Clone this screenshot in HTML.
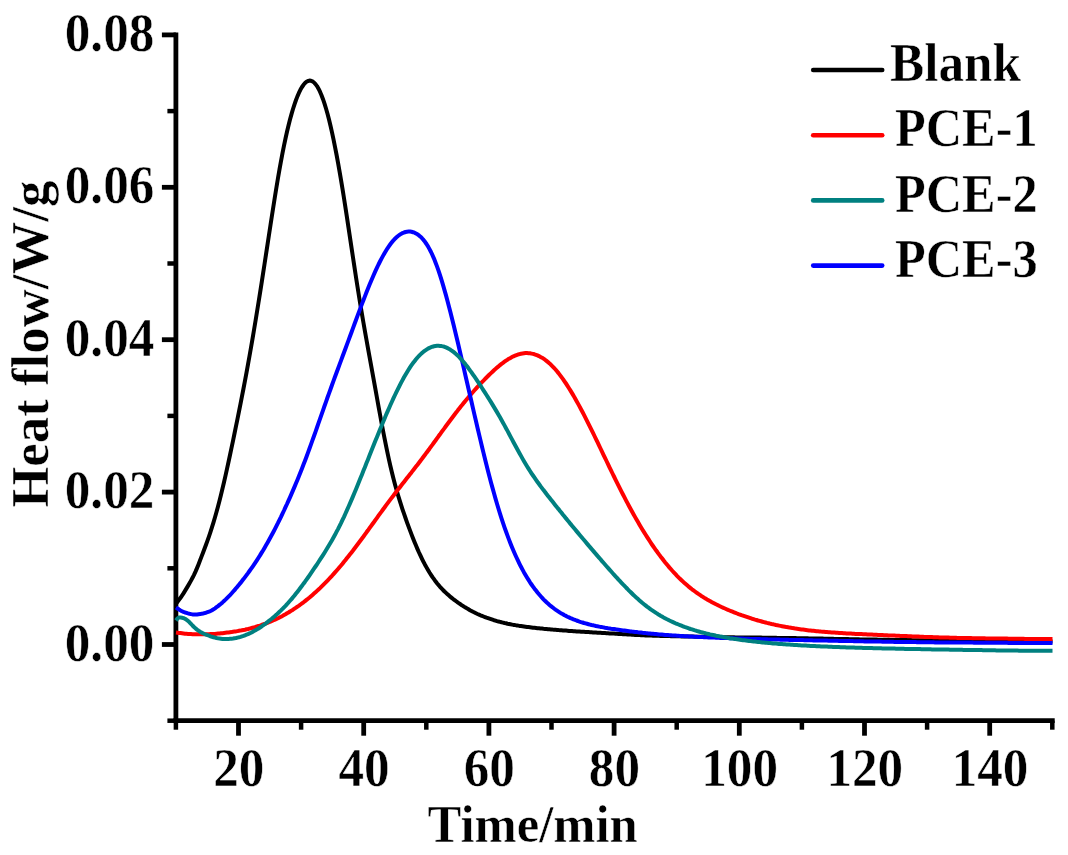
<!DOCTYPE html>
<html lang="en">
<head>
<meta charset="utf-8">
<title>Heat flow vs. time</title>
<style>
html,body{margin:0;padding:0;background:#fff;}
body{width:1068px;height:855px;overflow:hidden;}
svg{display:block;filter:blur(0.45px);}
</style>
</head>
<body>
<svg width="1068" height="855" viewBox="0 0 1068 855" role="img" aria-label="Heat flow versus time for Blank, PCE-1, PCE-2 and PCE-3">
<rect width="1068" height="855" fill="#fff"/>
<g stroke="#000" fill="none" stroke-linecap="butt">
<path d="M175.9 32.5 V723.1" stroke-width="4.8"/>
<path d="M173.5 720.7 H1054.7" stroke-width="4.8"/>
<path d="M167.4 720.7 H175.9" stroke-width="4.5"/>
<path d="M161.9 644.5 H175.9" stroke-width="4.8"/>
<path d="M167.4 568.3 H175.9" stroke-width="4.5"/>
<path d="M161.9 492.1 H175.9" stroke-width="4.8"/>
<path d="M167.4 415.9 H175.9" stroke-width="4.5"/>
<path d="M161.9 339.7 H175.9" stroke-width="4.8"/>
<path d="M167.4 263.5 H175.9" stroke-width="4.5"/>
<path d="M161.9 187.3 H175.9" stroke-width="4.8"/>
<path d="M167.4 111.1 H175.9" stroke-width="4.5"/>
<path d="M161.9 34.9 H175.9" stroke-width="4.8"/>
<path d="M175.9 720.7 V729.7" stroke-width="4.5"/>
<path d="M238.5 720.7 V735.7" stroke-width="4.8"/>
<path d="M301.1 720.7 V729.7" stroke-width="4.5"/>
<path d="M363.7 720.7 V735.7" stroke-width="4.8"/>
<path d="M426.3 720.7 V729.7" stroke-width="4.5"/>
<path d="M488.9 720.7 V735.7" stroke-width="4.8"/>
<path d="M551.5 720.7 V729.7" stroke-width="4.5"/>
<path d="M614.1 720.7 V735.7" stroke-width="4.8"/>
<path d="M676.7 720.7 V729.7" stroke-width="4.5"/>
<path d="M739.3 720.7 V735.7" stroke-width="4.8"/>
<path d="M801.9 720.7 V729.7" stroke-width="4.5"/>
<path d="M864.5 720.7 V735.7" stroke-width="4.8"/>
<path d="M927.1 720.7 V729.7" stroke-width="4.5"/>
<path d="M989.7 720.7 V735.7" stroke-width="4.8"/>
<path d="M1052.3 720.7 V729.7" stroke-width="4.5"/>
</g>
<g fill="none" stroke-linejoin="round" stroke-linecap="butt" stroke-width="4.00">
<path d="M176.0 603.8 L177.5 601.8 L179.0 599.8 L180.5 597.8 L182.0 595.6 L183.5 593.3 L185.0 590.9 L186.5 588.4 L188.0 585.9 L189.5 583.3 L191.0 580.6 L192.5 577.8 L194.0 574.8 L195.5 571.6 L197.0 568.1 L198.5 564.4 L200.0 560.6 L201.5 556.6 L203.0 552.7 L204.5 548.7 L206.0 544.7 L207.5 540.6 L209.0 536.3 L210.5 531.9 L212.0 527.2 L213.5 522.4 L215.0 517.3 L216.5 512.0 L218.0 506.5 L219.5 500.7 L221.0 494.7 L222.5 488.6 L224.0 482.2 L225.5 475.6 L227.0 468.9 L228.5 462.0 L230.0 455.0 L231.5 447.9 L233.0 440.8 L234.5 433.5 L236.0 426.2 L237.5 418.9 L239.0 411.4 L240.5 403.9 L242.0 396.2 L243.5 388.5 L245.0 380.6 L246.5 372.6 L248.0 364.4 L249.5 356.0 L251.0 347.5 L252.5 338.8 L254.0 330.0 L255.5 321.0 L257.0 311.8 L258.5 302.5 L260.0 293.1 L261.5 283.6 L263.0 273.9 L264.5 264.2 L266.0 254.4 L267.5 244.6 L269.0 234.8 L270.5 225.0 L272.0 215.3 L273.5 205.7 L275.0 196.2 L276.5 187.0 L278.0 178.0 L279.5 169.4 L281.0 161.1 L282.5 153.2 L284.0 145.6 L285.5 138.5 L287.0 131.8 L288.5 125.5 L290.0 119.6 L291.5 114.1 L293.0 109.0 L294.5 104.3 L296.0 100.0 L297.5 96.1 L299.0 92.7 L300.5 89.6 L302.0 87.0 L303.5 84.8 L305.0 83.1 L306.5 81.8 L308.0 81.0 L309.5 80.6 L311.0 80.8 L312.5 81.4 L314.0 82.5 L315.5 84.1 L317.0 86.1 L318.5 88.7 L320.0 91.7 L321.5 95.2 L323.0 99.2 L324.5 103.6 L326.0 108.5 L327.5 113.8 L329.0 119.6 L330.5 125.8 L332.0 132.4 L333.5 139.4 L335.0 146.8 L336.5 154.5 L338.0 162.6 L339.5 171.1 L341.0 179.8 L342.5 188.9 L344.0 198.3 L345.5 207.9 L347.0 217.6 L348.5 227.6 L350.0 237.6 L351.5 247.6 L353.0 257.5 L354.5 267.4 L356.0 277.2 L357.5 286.8 L359.0 296.2 L360.5 305.3 L362.0 314.3 L363.5 323.0 L365.0 331.6 L366.5 340.0 L368.0 348.4 L369.5 356.7 L371.0 364.9 L372.5 373.2 L374.0 381.4 L375.5 389.7 L377.0 398.0 L378.5 406.3 L380.0 414.5 L381.5 422.6 L383.0 430.5 L384.5 438.2 L386.0 445.7 L387.5 452.9 L389.0 459.9 L390.5 466.5 L392.0 472.8 L393.5 478.8 L395.0 484.4 L396.5 489.8 L398.0 495.0 L399.5 499.9 L401.0 504.7 L402.5 509.3 L404.0 513.7 L405.5 518.0 L407.0 522.3 L408.5 526.4 L410.0 530.4 L411.5 534.4 L413.0 538.2 L414.5 542.0 L416.0 545.6 L417.5 549.1 L419.0 552.5 L420.5 555.7 L422.0 558.8 L423.5 561.8 L425.0 564.7 L426.5 567.4 L428.0 570.0 L429.5 572.5 L431.0 574.8 L432.5 577.1 L434.0 579.2 L435.5 581.3 L437.0 583.2 L438.5 585.0 L440.0 586.8 L441.5 588.4 L443.0 590.0 L444.5 591.5 L446.0 592.9 L447.5 594.3 L449.0 595.6 L450.5 596.9 L452.0 598.1 L453.5 599.3 L455.0 600.4 L456.5 601.5 L458.0 602.6 L459.5 603.6 L461.0 604.7 L462.5 605.6 L464.0 606.6 L465.5 607.5 L467.0 608.4 L468.5 609.3 L470.0 610.2 L471.5 611.0 L473.0 611.8 L474.5 612.5 L476.0 613.3 L477.5 614.0 L479.0 614.6 L480.5 615.3 L482.0 615.9 L483.5 616.5 L485.0 617.1 L486.5 617.7 L488.0 618.2 L489.5 618.7 L491.0 619.2 L492.5 619.7 L494.0 620.2 L495.5 620.6 L497.0 621.1 L498.5 621.5 L500.0 621.9 L501.5 622.3 L503.0 622.6 L504.5 623.0 L506.0 623.3 L507.5 623.7 L509.0 624.0 L510.5 624.3 L512.0 624.6 L513.5 624.9 L515.0 625.1 L516.5 625.4 L518.0 625.6 L519.5 625.9 L521.0 626.1 L522.5 626.3 L524.0 626.5 L525.5 626.7 L527.0 626.9 L528.5 627.1 L530.0 627.3 L531.5 627.5 L533.0 627.7 L534.5 627.8 L536.0 628.0 L537.5 628.2 L539.0 628.3 L540.5 628.5 L542.0 628.6 L543.5 628.8 L545.0 628.9 L546.5 629.0 L548.0 629.2 L549.5 629.3 L551.0 629.4 L552.5 629.6 L554.0 629.7 L555.5 629.8 L557.0 629.9 L558.5 630.1 L560.0 630.2 L561.5 630.3 L563.0 630.4 L564.5 630.5 L566.0 630.6 L567.5 630.7 L569.0 630.9 L570.5 631.0 L572.0 631.1 L573.5 631.2 L575.0 631.3 L576.5 631.4 L578.0 631.5 L579.5 631.6 L581.0 631.7 L582.5 631.8 L584.0 631.8 L585.5 631.9 L587.0 632.0 L588.5 632.1 L590.0 632.2 L591.5 632.3 L593.0 632.4 L594.5 632.5 L596.0 632.6 L597.5 632.7 L599.0 632.7 L600.5 632.8 L602.0 632.9 L603.5 633.0 L605.0 633.1 L606.5 633.2 L608.0 633.3 L609.5 633.4 L611.0 633.5 L612.5 633.5 L614.0 633.6 L615.5 633.7 L617.0 633.8 L618.5 633.9 L620.0 634.0 L621.5 634.1 L623.0 634.2 L624.5 634.3 L626.0 634.3 L627.5 634.4 L629.0 634.5 L630.5 634.6 L632.0 634.7 L633.5 634.8 L635.0 634.9 L636.5 634.9 L638.0 635.0 L639.5 635.1 L641.0 635.2 L642.5 635.2 L644.0 635.3 L645.5 635.4 L647.0 635.4 L648.5 635.5 L650.0 635.5 L651.5 635.6 L653.0 635.7 L654.5 635.7 L656.0 635.8 L657.5 635.8 L659.0 635.8 L660.5 635.9 L662.0 635.9 L663.5 636.0 L665.0 636.0 L666.5 636.0 L668.0 636.1 L669.5 636.1 L671.0 636.2 L672.5 636.2 L674.0 636.2 L675.5 636.3 L677.0 636.3 L678.5 636.3 L680.0 636.3 L681.5 636.4 L683.0 636.4 L684.5 636.4 L686.0 636.5 L687.5 636.5 L689.0 636.5 L690.5 636.6 L692.0 636.6 L693.5 636.6 L695.0 636.7 L696.5 636.7 L698.0 636.7 L699.5 636.8 L701.0 636.8 L702.5 636.8 L704.0 636.9 L705.5 636.9 L707.0 636.9 L708.5 636.9 L710.0 637.0 L711.5 637.0 L713.0 637.0 L714.5 637.1 L716.0 637.1 L717.5 637.1 L719.0 637.1 L720.5 637.2 L722.0 637.2 L723.5 637.2 L725.0 637.2 L726.5 637.2 L728.0 637.3 L729.5 637.3 L731.0 637.3 L732.5 637.3 L734.0 637.3 L735.5 637.4 L737.0 637.4 L738.5 637.4 L740.0 637.4 L741.5 637.4 L743.0 637.4 L744.5 637.4 L746.0 637.5 L747.5 637.5 L749.0 637.5 L750.5 637.5 L752.0 637.5 L753.5 637.5 L755.0 637.6 L756.5 637.6 L758.0 637.6 L759.5 637.6 L761.0 637.6 L762.5 637.7 L764.0 637.7 L765.5 637.7 L767.0 637.7 L768.5 637.7 L770.0 637.8 L771.5 637.8 L773.0 637.8 L774.5 637.8 L776.0 637.8 L777.5 637.9 L779.0 637.9 L780.5 637.9 L782.0 637.9 L783.5 638.0 L785.0 638.0 L786.5 638.0 L788.0 638.0 L789.5 638.0 L791.0 638.1 L792.5 638.1 L794.0 638.1 L795.5 638.1 L797.0 638.2 L798.5 638.2 L800.0 638.2 L801.5 638.2 L803.0 638.3 L804.5 638.3 L806.0 638.3 L807.5 638.3 L809.0 638.4 L810.5 638.4 L812.0 638.4 L813.5 638.5 L815.0 638.5 L816.5 638.5 L818.0 638.5 L819.5 638.6 L821.0 638.6 L822.5 638.6 L824.0 638.7 L825.5 638.7 L827.0 638.7 L828.5 638.7 L830.0 638.8 L831.5 638.8 L833.0 638.8 L834.5 638.9 L836.0 638.9 L837.5 638.9 L839.0 638.9 L840.5 639.0 L842.0 639.0 L843.5 639.0 L845.0 639.1 L846.5 639.1 L848.0 639.1 L849.5 639.2 L851.0 639.2 L852.5 639.2 L854.0 639.2 L855.5 639.3 L857.0 639.3 L858.5 639.3 L860.0 639.4 L861.5 639.4 L863.0 639.4 L864.5 639.4 L866.0 639.5 L867.5 639.5 L869.0 639.5 L870.5 639.5 L872.0 639.6 L873.5 639.6 L875.0 639.6 L876.5 639.6 L878.0 639.7 L879.5 639.7 L881.0 639.7 L882.5 639.7 L884.0 639.8 L885.5 639.8 L887.0 639.8 L888.5 639.8 L890.0 639.9 L891.5 639.9 L893.0 639.9 L894.5 639.9 L896.0 639.9 L897.5 640.0 L899.0 640.0 L900.5 640.0 L902.0 640.0 L903.5 640.0 L905.0 640.1 L906.5 640.1 L908.0 640.1 L909.5 640.1 L911.0 640.1 L912.5 640.2 L914.0 640.2 L915.5 640.2 L917.0 640.2 L918.5 640.2 L920.0 640.3 L921.5 640.3 L923.0 640.3 L924.5 640.3 L926.0 640.3 L927.5 640.3 L929.0 640.4 L930.5 640.4 L932.0 640.4 L933.5 640.4 L935.0 640.4 L936.5 640.5 L938.0 640.5 L939.5 640.5 L941.0 640.5 L942.5 640.5 L944.0 640.5 L945.5 640.6 L947.0 640.6 L948.5 640.6 L950.0 640.6 L951.5 640.6 L953.0 640.6 L954.5 640.7 L956.0 640.7 L957.5 640.7 L959.0 640.7 L960.5 640.7 L962.0 640.7 L963.5 640.8 L965.0 640.8 L966.5 640.8 L968.0 640.8 L969.5 640.8 L971.0 640.8 L972.5 640.9 L974.0 640.9 L975.5 640.9 L977.0 640.9 L978.5 640.9 L980.0 640.9 L981.5 640.9 L983.0 641.0 L984.5 641.0 L986.0 641.0 L987.5 641.0 L989.0 641.0 L990.5 641.0 L992.0 641.0 L993.5 641.1 L995.0 641.1 L996.5 641.1 L998.0 641.1 L999.5 641.1 L1001.0 641.1 L1002.5 641.1 L1004.0 641.2 L1005.5 641.2 L1007.0 641.2 L1008.5 641.2 L1010.0 641.2 L1011.5 641.2 L1013.0 641.2 L1014.5 641.2 L1016.0 641.3 L1017.5 641.3 L1019.0 641.3 L1020.5 641.3 L1022.0 641.3 L1023.5 641.3 L1025.0 641.3 L1026.5 641.3 L1028.0 641.3 L1029.5 641.4 L1031.0 641.4 L1032.5 641.4 L1034.0 641.4 L1035.5 641.4 L1037.0 641.4 L1038.5 641.4 L1040.0 641.4 L1041.5 641.4 L1043.0 641.4 L1044.5 641.5 L1046.0 641.5 L1047.5 641.5 L1049.0 641.5 L1050.5 641.5 L1052.0 641.5 L1052.5 641.5" stroke="#000"/>
<path d="M176.0 632.5 L177.5 632.7 L179.0 632.9 L180.5 633.1 L182.0 633.3 L183.5 633.5 L185.0 633.7 L186.5 633.8 L188.0 633.9 L189.5 634.0 L191.0 634.1 L192.5 634.2 L194.0 634.3 L195.5 634.3 L197.0 634.3 L198.5 634.2 L200.0 634.2 L201.5 634.2 L203.0 634.1 L204.5 634.2 L206.0 634.2 L207.5 634.2 L209.0 634.2 L210.5 634.1 L212.0 634.1 L213.5 634.0 L215.0 633.9 L216.5 633.7 L218.0 633.6 L219.5 633.5 L221.0 633.3 L222.5 633.2 L224.0 633.0 L225.5 632.8 L227.0 632.6 L228.5 632.5 L230.0 632.3 L231.5 632.1 L233.0 631.8 L234.5 631.6 L236.0 631.4 L237.5 631.1 L239.0 630.8 L240.5 630.6 L242.0 630.3 L243.5 630.0 L245.0 629.7 L246.5 629.3 L248.0 629.0 L249.5 628.6 L251.0 628.2 L252.5 627.8 L254.0 627.4 L255.5 627.0 L257.0 626.5 L258.5 626.0 L260.0 625.6 L261.5 625.0 L263.0 624.5 L264.5 624.0 L266.0 623.4 L267.5 622.8 L269.0 622.2 L270.5 621.6 L272.0 621.0 L273.5 620.3 L275.0 619.6 L276.5 618.9 L278.0 618.2 L279.5 617.4 L281.0 616.7 L282.5 615.9 L284.0 615.0 L285.5 614.2 L287.0 613.3 L288.5 612.5 L290.0 611.5 L291.5 610.6 L293.0 609.7 L294.5 608.7 L296.0 607.7 L297.5 606.6 L299.0 605.6 L300.5 604.5 L302.0 603.4 L303.5 602.3 L305.0 601.1 L306.5 599.9 L308.0 598.7 L309.5 597.5 L311.0 596.2 L312.5 594.9 L314.0 593.6 L315.5 592.3 L317.0 590.9 L318.5 589.5 L320.0 588.1 L321.5 586.6 L323.0 585.1 L324.5 583.6 L326.0 582.1 L327.5 580.6 L329.0 579.0 L330.5 577.4 L332.0 575.8 L333.5 574.1 L335.0 572.4 L336.5 570.7 L338.0 569.0 L339.5 567.2 L341.0 565.5 L342.5 563.7 L344.0 561.8 L345.5 560.0 L347.0 558.1 L348.5 556.2 L350.0 554.3 L351.5 552.4 L353.0 550.5 L354.5 548.5 L356.0 546.5 L357.5 544.5 L359.0 542.5 L360.5 540.5 L362.0 538.5 L363.5 536.5 L365.0 534.4 L366.5 532.3 L368.0 530.3 L369.5 528.2 L371.0 526.1 L372.5 524.0 L374.0 522.0 L375.5 519.9 L377.0 517.8 L378.5 515.7 L380.0 513.6 L381.5 511.6 L383.0 509.5 L384.5 507.5 L386.0 505.4 L387.5 503.4 L389.0 501.4 L390.5 499.4 L392.0 497.4 L393.5 495.5 L395.0 493.5 L396.5 491.5 L398.0 489.6 L399.5 487.7 L401.0 485.7 L402.5 483.8 L404.0 481.9 L405.5 480.0 L407.0 478.1 L408.5 476.2 L410.0 474.3 L411.5 472.4 L413.0 470.4 L414.5 468.5 L416.0 466.6 L417.5 464.7 L419.0 462.7 L420.5 460.7 L422.0 458.8 L423.5 456.8 L425.0 454.8 L426.5 452.7 L428.0 450.7 L429.5 448.7 L431.0 446.6 L432.5 444.6 L434.0 442.5 L435.5 440.5 L437.0 438.4 L438.5 436.3 L440.0 434.3 L441.5 432.2 L443.0 430.1 L444.5 428.1 L446.0 426.0 L447.5 424.0 L449.0 422.0 L450.5 420.0 L452.0 418.0 L453.5 416.0 L455.0 414.0 L456.5 412.1 L458.0 410.1 L459.5 408.2 L461.0 406.3 L462.5 404.5 L464.0 402.6 L465.5 400.8 L467.0 399.0 L468.5 397.2 L470.0 395.4 L471.5 393.7 L473.0 392.0 L474.5 390.3 L476.0 388.6 L477.5 386.9 L479.0 385.3 L480.5 383.7 L482.0 382.1 L483.5 380.6 L485.0 379.0 L486.5 377.5 L488.0 376.0 L489.5 374.5 L491.0 373.1 L492.5 371.7 L494.0 370.3 L495.5 368.9 L497.0 367.6 L498.5 366.4 L500.0 365.1 L501.5 363.9 L503.0 362.8 L504.5 361.7 L506.0 360.6 L507.5 359.7 L509.0 358.7 L510.5 357.9 L512.0 357.1 L513.5 356.3 L515.0 355.7 L516.5 355.1 L518.0 354.5 L519.5 354.1 L521.0 353.7 L522.5 353.5 L524.0 353.3 L525.5 353.1 L527.0 353.1 L528.5 353.2 L530.0 353.3 L531.5 353.6 L533.0 353.9 L534.5 354.3 L536.0 354.8 L537.5 355.4 L539.0 356.1 L540.5 356.9 L542.0 357.7 L543.5 358.7 L545.0 359.7 L546.5 360.9 L548.0 362.1 L549.5 363.4 L551.0 364.8 L552.5 366.3 L554.0 367.9 L555.5 369.5 L557.0 371.3 L558.5 373.1 L560.0 375.1 L561.5 377.1 L563.0 379.1 L564.5 381.3 L566.0 383.5 L567.5 385.8 L569.0 388.2 L570.5 390.6 L572.0 393.1 L573.5 395.6 L575.0 398.3 L576.5 400.9 L578.0 403.6 L579.5 406.4 L581.0 409.2 L582.5 412.0 L584.0 414.9 L585.5 417.8 L587.0 420.8 L588.5 423.8 L590.0 426.8 L591.5 429.8 L593.0 432.9 L594.5 436.0 L596.0 439.1 L597.5 442.2 L599.0 445.3 L600.5 448.5 L602.0 451.6 L603.5 454.8 L605.0 457.9 L606.5 461.0 L608.0 464.2 L609.5 467.3 L611.0 470.4 L612.5 473.5 L614.0 476.5 L615.5 479.6 L617.0 482.6 L618.5 485.6 L620.0 488.6 L621.5 491.6 L623.0 494.5 L624.5 497.4 L626.0 500.3 L627.5 503.2 L629.0 506.0 L630.5 508.7 L632.0 511.5 L633.5 514.2 L635.0 516.9 L636.5 519.5 L638.0 522.1 L639.5 524.7 L641.0 527.2 L642.5 529.7 L644.0 532.1 L645.5 534.5 L647.0 536.9 L648.5 539.2 L650.0 541.5 L651.5 543.8 L653.0 546.0 L654.5 548.1 L656.0 550.3 L657.5 552.3 L659.0 554.4 L660.5 556.4 L662.0 558.3 L663.5 560.3 L665.0 562.2 L666.5 564.0 L668.0 565.8 L669.5 567.6 L671.0 569.3 L672.5 571.0 L674.0 572.6 L675.5 574.2 L677.0 575.8 L678.5 577.3 L680.0 578.8 L681.5 580.2 L683.0 581.6 L684.5 583.0 L686.0 584.3 L687.5 585.6 L689.0 586.9 L690.5 588.1 L692.0 589.3 L693.5 590.4 L695.0 591.5 L696.5 592.6 L698.0 593.7 L699.5 594.7 L701.0 595.7 L702.5 596.6 L704.0 597.6 L705.5 598.5 L707.0 599.4 L708.5 600.2 L710.0 601.1 L711.5 601.9 L713.0 602.7 L714.5 603.5 L716.0 604.3 L717.5 605.0 L719.0 605.8 L720.5 606.5 L722.0 607.2 L723.5 607.9 L725.0 608.5 L726.5 609.2 L728.0 609.9 L729.5 610.5 L731.0 611.1 L732.5 611.7 L734.0 612.3 L735.5 612.9 L737.0 613.5 L738.5 614.1 L740.0 614.6 L741.5 615.2 L743.0 615.7 L744.5 616.2 L746.0 616.7 L747.5 617.2 L749.0 617.7 L750.5 618.2 L752.0 618.7 L753.5 619.1 L755.0 619.6 L756.5 620.0 L758.0 620.5 L759.5 620.9 L761.0 621.3 L762.5 621.7 L764.0 622.1 L765.5 622.5 L767.0 622.9 L768.5 623.2 L770.0 623.6 L771.5 624.0 L773.0 624.3 L774.5 624.6 L776.0 625.0 L777.5 625.3 L779.0 625.6 L780.5 625.9 L782.0 626.2 L783.5 626.5 L785.0 626.8 L786.5 627.1 L788.0 627.3 L789.5 627.6 L791.0 627.8 L792.5 628.1 L794.0 628.3 L795.5 628.6 L797.0 628.8 L798.5 629.0 L800.0 629.2 L801.5 629.4 L803.0 629.6 L804.5 629.8 L806.0 630.0 L807.5 630.2 L809.0 630.4 L810.5 630.5 L812.0 630.7 L813.5 630.8 L815.0 631.0 L816.5 631.2 L818.0 631.3 L819.5 631.4 L821.0 631.6 L822.5 631.7 L824.0 631.8 L825.5 632.0 L827.0 632.1 L828.5 632.2 L830.0 632.3 L831.5 632.4 L833.0 632.5 L834.5 632.6 L836.0 632.7 L837.5 632.8 L839.0 632.9 L840.5 633.0 L842.0 633.1 L843.5 633.2 L845.0 633.3 L846.5 633.4 L848.0 633.5 L849.5 633.5 L851.0 633.6 L852.5 633.7 L854.0 633.8 L855.5 633.9 L857.0 633.9 L858.5 634.0 L860.0 634.1 L861.5 634.1 L863.0 634.2 L864.5 634.3 L866.0 634.3 L867.5 634.4 L869.0 634.5 L870.5 634.6 L872.0 634.6 L873.5 634.7 L875.0 634.8 L876.5 634.8 L878.0 634.9 L879.5 635.0 L881.0 635.0 L882.5 635.1 L884.0 635.2 L885.5 635.2 L887.0 635.3 L888.5 635.4 L890.0 635.4 L891.5 635.5 L893.0 635.6 L894.5 635.6 L896.0 635.7 L897.5 635.8 L899.0 635.8 L900.5 635.9 L902.0 635.9 L903.5 636.0 L905.0 636.1 L906.5 636.1 L908.0 636.2 L909.5 636.3 L911.0 636.3 L912.5 636.4 L914.0 636.4 L915.5 636.5 L917.0 636.6 L918.5 636.6 L920.0 636.7 L921.5 636.7 L923.0 636.8 L924.5 636.9 L926.0 636.9 L927.5 637.0 L929.0 637.0 L930.5 637.1 L932.0 637.1 L933.5 637.2 L935.0 637.2 L936.5 637.3 L938.0 637.3 L939.5 637.4 L941.0 637.4 L942.5 637.5 L944.0 637.5 L945.5 637.5 L947.0 637.6 L948.5 637.6 L950.0 637.7 L951.5 637.7 L953.0 637.7 L954.5 637.8 L956.0 637.8 L957.5 637.9 L959.0 637.9 L960.5 637.9 L962.0 638.0 L963.5 638.0 L965.0 638.0 L966.5 638.0 L968.0 638.1 L969.5 638.1 L971.0 638.1 L972.5 638.2 L974.0 638.2 L975.5 638.2 L977.0 638.2 L978.5 638.3 L980.0 638.3 L981.5 638.3 L983.0 638.3 L984.5 638.3 L986.0 638.4 L987.5 638.4 L989.0 638.4 L990.5 638.4 L992.0 638.5 L993.5 638.5 L995.0 638.5 L996.5 638.5 L998.0 638.5 L999.5 638.5 L1001.0 638.6 L1002.5 638.6 L1004.0 638.6 L1005.5 638.6 L1007.0 638.6 L1008.5 638.7 L1010.0 638.7 L1011.5 638.7 L1013.0 638.7 L1014.5 638.7 L1016.0 638.7 L1017.5 638.8 L1019.0 638.8 L1020.5 638.8 L1022.0 638.8 L1023.5 638.8 L1025.0 638.9 L1026.5 638.9 L1028.0 638.9 L1029.5 638.9 L1031.0 638.9 L1032.5 639.0 L1034.0 639.0 L1035.5 639.0 L1037.0 639.0 L1038.5 639.0 L1040.0 639.0 L1041.5 639.0 L1043.0 639.0 L1044.5 639.0 L1046.0 639.0 L1047.5 639.0 L1049.0 639.0 L1050.5 639.0 L1052.0 639.0 L1052.5 639.0" stroke="#ff0000"/>
<path d="M176.0 607.5 L177.5 608.5 L179.0 609.5 L180.5 610.4 L182.0 611.2 L183.5 611.9 L185.0 612.5 L186.5 612.9 L188.0 613.4 L189.5 613.8 L191.0 614.1 L192.5 614.4 L194.0 614.5 L195.5 614.6 L197.0 614.5 L198.5 614.3 L200.0 614.1 L201.5 613.8 L203.0 613.5 L204.5 613.1 L206.0 612.7 L207.5 612.2 L209.0 611.7 L210.5 611.0 L212.0 610.2 L213.5 609.3 L215.0 608.3 L216.5 607.2 L218.0 606.1 L219.5 604.9 L221.0 603.7 L222.5 602.4 L224.0 601.0 L225.5 599.6 L227.0 598.1 L228.5 596.6 L230.0 595.1 L231.5 593.5 L233.0 591.8 L234.5 590.1 L236.0 588.3 L237.5 586.6 L239.0 584.7 L240.5 582.9 L242.0 581.0 L243.5 579.1 L245.0 577.1 L246.5 575.1 L248.0 573.1 L249.5 571.0 L251.0 568.9 L252.5 566.8 L254.0 564.6 L255.5 562.4 L257.0 560.1 L258.5 557.7 L260.0 555.4 L261.5 552.9 L263.0 550.5 L264.5 547.9 L266.0 545.3 L267.5 542.7 L269.0 540.0 L270.5 537.3 L272.0 534.5 L273.5 531.7 L275.0 528.8 L276.5 525.8 L278.0 522.9 L279.5 519.8 L281.0 516.8 L282.5 513.6 L284.0 510.5 L285.5 507.2 L287.0 504.0 L288.5 500.6 L290.0 497.3 L291.5 493.9 L293.0 490.4 L294.5 486.9 L296.0 483.3 L297.5 479.7 L299.0 476.0 L300.5 472.2 L302.0 468.4 L303.5 464.6 L305.0 460.7 L306.5 456.7 L308.0 452.6 L309.5 448.5 L311.0 444.4 L312.5 440.2 L314.0 436.0 L315.5 431.8 L317.0 427.5 L318.5 423.2 L320.0 418.9 L321.5 414.6 L323.0 410.3 L324.5 406.0 L326.0 401.8 L327.5 397.5 L329.0 393.3 L330.5 389.2 L332.0 385.0 L333.5 380.9 L335.0 376.8 L336.5 372.7 L338.0 368.7 L339.5 364.6 L341.0 360.6 L342.5 356.5 L344.0 352.5 L345.5 348.5 L347.0 344.4 L348.5 340.4 L350.0 336.3 L351.5 332.2 L353.0 328.1 L354.5 324.0 L356.0 320.0 L357.5 315.9 L359.0 311.9 L360.5 307.9 L362.0 303.9 L363.5 300.0 L365.0 296.1 L366.5 292.2 L368.0 288.5 L369.5 284.8 L371.0 281.2 L372.5 277.7 L374.0 274.2 L375.5 270.9 L377.0 267.7 L378.5 264.5 L380.0 261.5 L381.5 258.6 L383.0 255.9 L384.5 253.2 L386.0 250.7 L387.5 248.3 L389.0 246.1 L390.5 244.0 L392.0 242.1 L393.5 240.3 L395.0 238.7 L396.5 237.3 L398.0 236.0 L399.5 234.9 L401.0 233.9 L402.5 233.1 L404.0 232.5 L405.5 232.0 L407.0 231.7 L408.5 231.6 L410.0 231.6 L411.5 231.8 L413.0 232.2 L414.5 232.7 L416.0 233.5 L417.5 234.3 L419.0 235.4 L420.5 236.7 L422.0 238.2 L423.5 239.9 L425.0 241.8 L426.5 244.0 L428.0 246.4 L429.5 249.1 L431.0 252.0 L432.5 255.2 L434.0 258.6 L435.5 262.4 L437.0 266.4 L438.5 270.6 L440.0 275.2 L441.5 279.9 L443.0 284.9 L444.5 290.1 L446.0 295.4 L447.5 301.0 L449.0 306.7 L450.5 312.5 L452.0 318.5 L453.5 324.6 L455.0 330.7 L456.5 337.0 L458.0 343.3 L459.5 349.7 L461.0 356.2 L462.5 362.6 L464.0 369.1 L465.5 375.7 L467.0 382.2 L468.5 388.8 L470.0 395.3 L471.5 401.8 L473.0 408.4 L474.5 414.9 L476.0 421.3 L477.5 427.7 L479.0 434.1 L480.5 440.4 L482.0 446.7 L483.5 452.9 L485.0 459.0 L486.5 465.0 L488.0 470.9 L489.5 476.7 L491.0 482.4 L492.5 487.9 L494.0 493.3 L495.5 498.6 L497.0 503.7 L498.5 508.7 L500.0 513.6 L501.5 518.3 L503.0 522.8 L504.5 527.3 L506.0 531.5 L507.5 535.6 L509.0 539.6 L510.5 543.5 L512.0 547.2 L513.5 550.8 L515.0 554.2 L516.5 557.5 L518.0 560.7 L519.5 563.8 L521.0 566.8 L522.5 569.6 L524.0 572.4 L525.5 575.0 L527.0 577.5 L528.5 579.9 L530.0 582.3 L531.5 584.5 L533.0 586.6 L534.5 588.7 L536.0 590.6 L537.5 592.5 L539.0 594.3 L540.5 596.0 L542.0 597.7 L543.5 599.3 L545.0 600.8 L546.5 602.2 L548.0 603.6 L549.5 604.9 L551.0 606.2 L552.5 607.3 L554.0 608.5 L555.5 609.6 L557.0 610.6 L558.5 611.6 L560.0 612.6 L561.5 613.5 L563.0 614.3 L564.5 615.2 L566.0 615.9 L567.5 616.7 L569.0 617.4 L570.5 618.1 L572.0 618.7 L573.5 619.4 L575.0 619.9 L576.5 620.5 L578.0 621.0 L579.5 621.6 L581.0 622.1 L582.5 622.5 L584.0 623.0 L585.5 623.4 L587.0 623.8 L588.5 624.2 L590.0 624.6 L591.5 625.0 L593.0 625.3 L594.5 625.6 L596.0 626.0 L597.5 626.3 L599.0 626.6 L600.5 626.9 L602.0 627.1 L603.5 627.4 L605.0 627.7 L606.5 627.9 L608.0 628.2 L609.5 628.4 L611.0 628.7 L612.5 628.9 L614.0 629.1 L615.5 629.3 L617.0 629.6 L618.5 629.8 L620.0 630.0 L621.5 630.2 L623.0 630.4 L624.5 630.6 L626.0 630.8 L627.5 631.0 L629.0 631.2 L630.5 631.4 L632.0 631.6 L633.5 631.7 L635.0 631.9 L636.5 632.1 L638.0 632.3 L639.5 632.4 L641.0 632.6 L642.5 632.8 L644.0 632.9 L645.5 633.1 L647.0 633.2 L648.5 633.4 L650.0 633.5 L651.5 633.7 L653.0 633.8 L654.5 634.0 L656.0 634.1 L657.5 634.2 L659.0 634.4 L660.5 634.5 L662.0 634.6 L663.5 634.7 L665.0 634.9 L666.5 635.0 L668.0 635.1 L669.5 635.2 L671.0 635.3 L672.5 635.4 L674.0 635.5 L675.5 635.6 L677.0 635.7 L678.5 635.8 L680.0 635.9 L681.5 636.0 L683.0 636.1 L684.5 636.2 L686.0 636.3 L687.5 636.3 L689.0 636.4 L690.5 636.5 L692.0 636.6 L693.5 636.7 L695.0 636.7 L696.5 636.8 L698.0 636.9 L699.5 637.0 L701.0 637.0 L702.5 637.1 L704.0 637.2 L705.5 637.2 L707.0 637.3 L708.5 637.4 L710.0 637.4 L711.5 637.5 L713.0 637.5 L714.5 637.6 L716.0 637.7 L717.5 637.7 L719.0 637.8 L720.5 637.9 L722.0 637.9 L723.5 638.0 L725.0 638.0 L726.5 638.1 L728.0 638.1 L729.5 638.2 L731.0 638.2 L732.5 638.3 L734.0 638.3 L735.5 638.4 L737.0 638.5 L738.5 638.5 L740.0 638.6 L741.5 638.6 L743.0 638.6 L744.5 638.7 L746.0 638.7 L747.5 638.8 L749.0 638.8 L750.5 638.9 L752.0 638.9 L753.5 639.0 L755.0 639.0 L756.5 639.1 L758.0 639.1 L759.5 639.1 L761.0 639.2 L762.5 639.2 L764.0 639.3 L765.5 639.3 L767.0 639.3 L768.5 639.4 L770.0 639.4 L771.5 639.5 L773.0 639.5 L774.5 639.5 L776.0 639.6 L777.5 639.6 L779.0 639.6 L780.5 639.7 L782.0 639.7 L783.5 639.7 L785.0 639.8 L786.5 639.8 L788.0 639.8 L789.5 639.9 L791.0 639.9 L792.5 639.9 L794.0 640.0 L795.5 640.0 L797.0 640.0 L798.5 640.1 L800.0 640.1 L801.5 640.1 L803.0 640.1 L804.5 640.2 L806.0 640.2 L807.5 640.2 L809.0 640.3 L810.5 640.3 L812.0 640.3 L813.5 640.4 L815.0 640.4 L816.5 640.4 L818.0 640.5 L819.5 640.5 L821.0 640.5 L822.5 640.5 L824.0 640.6 L825.5 640.6 L827.0 640.6 L828.5 640.7 L830.0 640.7 L831.5 640.7 L833.0 640.8 L834.5 640.8 L836.0 640.8 L837.5 640.8 L839.0 640.9 L840.5 640.9 L842.0 640.9 L843.5 641.0 L845.0 641.0 L846.5 641.0 L848.0 641.1 L849.5 641.1 L851.0 641.1 L852.5 641.1 L854.0 641.2 L855.5 641.2 L857.0 641.2 L858.5 641.2 L860.0 641.3 L861.5 641.3 L863.0 641.3 L864.5 641.4 L866.0 641.4 L867.5 641.4 L869.0 641.4 L870.5 641.5 L872.0 641.5 L873.5 641.5 L875.0 641.5 L876.5 641.6 L878.0 641.6 L879.5 641.6 L881.0 641.6 L882.5 641.7 L884.0 641.7 L885.5 641.7 L887.0 641.7 L888.5 641.8 L890.0 641.8 L891.5 641.8 L893.0 641.8 L894.5 641.9 L896.0 641.9 L897.5 641.9 L899.0 641.9 L900.5 641.9 L902.0 642.0 L903.5 642.0 L905.0 642.0 L906.5 642.0 L908.0 642.0 L909.5 642.1 L911.0 642.1 L912.5 642.1 L914.0 642.1 L915.5 642.1 L917.0 642.2 L918.5 642.2 L920.0 642.2 L921.5 642.2 L923.0 642.2 L924.5 642.2 L926.0 642.3 L927.5 642.3 L929.0 642.3 L930.5 642.3 L932.0 642.3 L933.5 642.3 L935.0 642.4 L936.5 642.4 L938.0 642.4 L939.5 642.4 L941.0 642.4 L942.5 642.4 L944.0 642.4 L945.5 642.5 L947.0 642.5 L948.5 642.5 L950.0 642.5 L951.5 642.5 L953.0 642.5 L954.5 642.5 L956.0 642.5 L957.5 642.5 L959.0 642.6 L960.5 642.6 L962.0 642.6 L963.5 642.6 L965.0 642.6 L966.5 642.6 L968.0 642.6 L969.5 642.6 L971.0 642.6 L972.5 642.6 L974.0 642.7 L975.5 642.7 L977.0 642.7 L978.5 642.7 L980.0 642.7 L981.5 642.7 L983.0 642.7 L984.5 642.7 L986.0 642.7 L987.5 642.7 L989.0 642.7 L990.5 642.8 L992.0 642.8 L993.5 642.8 L995.0 642.8 L996.5 642.8 L998.0 642.8 L999.5 642.8 L1001.0 642.8 L1002.5 642.8 L1004.0 642.8 L1005.5 642.8 L1007.0 642.8 L1008.5 642.9 L1010.0 642.9 L1011.5 642.9 L1013.0 642.9 L1014.5 642.9 L1016.0 642.9 L1017.5 642.9 L1019.0 642.9 L1020.5 642.9 L1022.0 642.9 L1023.5 642.9 L1025.0 642.9 L1026.5 643.0 L1028.0 643.0 L1029.5 643.0 L1031.0 643.0 L1032.5 643.0 L1034.0 643.0 L1035.5 643.0 L1037.0 643.0 L1038.5 643.0 L1040.0 643.0 L1041.5 643.0 L1043.0 643.0 L1044.5 643.0 L1046.0 643.0 L1047.5 643.0 L1049.0 643.0 L1050.5 643.0 L1052.0 643.0 L1052.5 643.0" stroke="#0000ff"/>
<path d="M176.0 620.5 L177.5 618.4 L179.0 617.5 L180.5 617.4 L182.0 617.7 L183.5 618.1 L185.0 618.8 L186.5 619.7 L188.0 620.9 L189.5 622.3 L191.0 623.9 L192.5 625.5 L194.0 627.0 L195.5 628.4 L197.0 629.6 L198.5 630.7 L200.0 631.7 L201.5 632.5 L203.0 633.3 L204.5 634.0 L206.0 634.6 L207.5 635.2 L209.0 635.7 L210.5 636.3 L212.0 636.8 L213.5 637.2 L215.0 637.6 L216.5 638.0 L218.0 638.3 L219.5 638.5 L221.0 638.7 L222.5 638.9 L224.0 639.0 L225.5 639.0 L227.0 639.0 L228.5 638.9 L230.0 638.8 L231.5 638.7 L233.0 638.5 L234.5 638.2 L236.0 638.0 L237.5 637.6 L239.0 637.3 L240.5 636.9 L242.0 636.4 L243.5 635.9 L245.0 635.3 L246.5 634.7 L248.0 634.1 L249.5 633.4 L251.0 632.7 L252.5 631.9 L254.0 631.1 L255.5 630.3 L257.0 629.4 L258.5 628.5 L260.0 627.5 L261.5 626.5 L263.0 625.4 L264.5 624.4 L266.0 623.3 L267.5 622.1 L269.0 620.9 L270.5 619.7 L272.0 618.5 L273.5 617.2 L275.0 615.9 L276.5 614.6 L278.0 613.2 L279.5 611.8 L281.0 610.4 L282.5 608.9 L284.0 607.3 L285.5 605.8 L287.0 604.2 L288.5 602.5 L290.0 600.8 L291.5 599.1 L293.0 597.3 L294.5 595.5 L296.0 593.6 L297.5 591.7 L299.0 589.8 L300.5 587.8 L302.0 585.8 L303.5 583.7 L305.0 581.7 L306.5 579.6 L308.0 577.5 L309.5 575.3 L311.0 573.1 L312.5 570.9 L314.0 568.7 L315.5 566.5 L317.0 564.3 L318.5 562.0 L320.0 559.7 L321.5 557.4 L323.0 555.1 L324.5 552.7 L326.0 550.3 L327.5 547.8 L329.0 545.3 L330.5 542.8 L332.0 540.2 L333.5 537.5 L335.0 534.8 L336.5 531.9 L338.0 529.1 L339.5 526.1 L341.0 523.1 L342.5 519.9 L344.0 516.8 L345.5 513.5 L347.0 510.2 L348.5 506.8 L350.0 503.4 L351.5 499.9 L353.0 496.4 L354.5 492.8 L356.0 489.2 L357.5 485.5 L359.0 481.8 L360.5 478.1 L362.0 474.4 L363.5 470.6 L365.0 466.9 L366.5 463.1 L368.0 459.4 L369.5 455.6 L371.0 451.8 L372.5 448.1 L374.0 444.3 L375.5 440.6 L377.0 436.9 L378.5 433.2 L380.0 429.5 L381.5 425.9 L383.0 422.3 L384.5 418.7 L386.0 415.1 L387.5 411.6 L389.0 408.2 L390.5 404.8 L392.0 401.5 L393.5 398.2 L395.0 395.0 L396.5 391.8 L398.0 388.8 L399.5 385.8 L401.0 382.9 L402.5 380.1 L404.0 377.3 L405.5 374.7 L407.0 372.2 L408.5 369.8 L410.0 367.4 L411.5 365.2 L413.0 363.1 L414.5 361.2 L416.0 359.3 L417.5 357.5 L419.0 355.9 L420.5 354.4 L422.0 353.0 L423.5 351.7 L425.0 350.6 L426.5 349.6 L428.0 348.6 L429.5 347.9 L431.0 347.2 L432.5 346.7 L434.0 346.3 L435.5 346.0 L437.0 345.8 L438.5 345.8 L440.0 345.9 L441.5 346.1 L443.0 346.4 L444.5 346.8 L446.0 347.4 L447.5 348.1 L449.0 348.9 L450.5 349.8 L452.0 350.8 L453.5 351.9 L455.0 353.1 L456.5 354.5 L458.0 355.9 L459.5 357.4 L461.0 359.1 L462.5 360.8 L464.0 362.6 L465.5 364.4 L467.0 366.3 L468.5 368.3 L470.0 370.4 L471.5 372.4 L473.0 374.6 L474.5 376.7 L476.0 378.9 L477.5 381.2 L479.0 383.4 L480.5 385.7 L482.0 388.0 L483.5 390.3 L485.0 392.6 L486.5 395.0 L488.0 397.3 L489.5 399.7 L491.0 402.1 L492.5 404.6 L494.0 407.1 L495.5 409.6 L497.0 412.1 L498.5 414.7 L500.0 417.3 L501.5 420.0 L503.0 422.7 L504.5 425.4 L506.0 428.2 L507.5 430.9 L509.0 433.7 L510.5 436.6 L512.0 439.4 L513.5 442.2 L515.0 445.0 L516.5 447.8 L518.0 450.5 L519.5 453.2 L521.0 455.9 L522.5 458.6 L524.0 461.2 L525.5 463.7 L527.0 466.2 L528.5 468.6 L530.0 471.0 L531.5 473.3 L533.0 475.5 L534.5 477.7 L536.0 479.9 L537.5 482.0 L539.0 484.0 L540.5 486.1 L542.0 488.1 L543.5 490.1 L545.0 492.0 L546.5 494.0 L548.0 495.9 L549.5 497.8 L551.0 499.7 L552.5 501.6 L554.0 503.5 L555.5 505.4 L557.0 507.3 L558.5 509.1 L560.0 511.0 L561.5 512.8 L563.0 514.7 L564.5 516.5 L566.0 518.4 L567.5 520.2 L569.0 522.0 L570.5 523.9 L572.0 525.7 L573.5 527.5 L575.0 529.3 L576.5 531.1 L578.0 532.9 L579.5 534.7 L581.0 536.5 L582.5 538.3 L584.0 540.0 L585.5 541.8 L587.0 543.6 L588.5 545.4 L590.0 547.1 L591.5 548.9 L593.0 550.6 L594.5 552.4 L596.0 554.1 L597.5 555.9 L599.0 557.6 L600.5 559.3 L602.0 561.1 L603.5 562.8 L605.0 564.5 L606.5 566.2 L608.0 567.9 L609.5 569.6 L611.0 571.3 L612.5 573.0 L614.0 574.7 L615.5 576.3 L617.0 577.9 L618.5 579.6 L620.0 581.2 L621.5 582.8 L623.0 584.4 L624.5 585.9 L626.0 587.5 L627.5 589.0 L629.0 590.6 L630.5 592.0 L632.0 593.5 L633.5 595.0 L635.0 596.4 L636.5 597.8 L638.0 599.1 L639.5 600.4 L641.0 601.7 L642.5 603.0 L644.0 604.2 L645.5 605.4 L647.0 606.6 L648.5 607.7 L650.0 608.8 L651.5 609.9 L653.0 610.9 L654.5 611.9 L656.0 612.9 L657.5 613.8 L659.0 614.8 L660.5 615.7 L662.0 616.5 L663.5 617.4 L665.0 618.2 L666.5 619.0 L668.0 619.7 L669.5 620.5 L671.0 621.2 L672.5 621.9 L674.0 622.6 L675.5 623.3 L677.0 623.9 L678.5 624.5 L680.0 625.1 L681.5 625.7 L683.0 626.3 L684.5 626.9 L686.0 627.4 L687.5 627.9 L689.0 628.5 L690.5 629.0 L692.0 629.4 L693.5 629.9 L695.0 630.4 L696.5 630.8 L698.0 631.3 L699.5 631.7 L701.0 632.1 L702.5 632.5 L704.0 632.9 L705.5 633.3 L707.0 633.6 L708.5 634.0 L710.0 634.4 L711.5 634.7 L713.0 635.0 L714.5 635.3 L716.0 635.7 L717.5 636.0 L719.0 636.3 L720.5 636.6 L722.0 636.8 L723.5 637.1 L725.0 637.4 L726.5 637.6 L728.0 637.9 L729.5 638.2 L731.0 638.4 L732.5 638.6 L734.0 638.9 L735.5 639.1 L737.0 639.3 L738.5 639.5 L740.0 639.7 L741.5 640.0 L743.0 640.2 L744.5 640.3 L746.0 640.5 L747.5 640.7 L749.0 640.9 L750.5 641.1 L752.0 641.3 L753.5 641.4 L755.0 641.6 L756.5 641.8 L758.0 641.9 L759.5 642.1 L761.0 642.2 L762.5 642.4 L764.0 642.5 L765.5 642.7 L767.0 642.8 L768.5 643.0 L770.0 643.1 L771.5 643.2 L773.0 643.4 L774.5 643.5 L776.0 643.6 L777.5 643.7 L779.0 643.9 L780.5 644.0 L782.0 644.1 L783.5 644.2 L785.0 644.3 L786.5 644.4 L788.0 644.5 L789.5 644.6 L791.0 644.7 L792.5 644.8 L794.0 644.9 L795.5 645.0 L797.0 645.1 L798.5 645.2 L800.0 645.3 L801.5 645.4 L803.0 645.5 L804.5 645.6 L806.0 645.6 L807.5 645.7 L809.0 645.8 L810.5 645.9 L812.0 646.0 L813.5 646.0 L815.0 646.1 L816.5 646.2 L818.0 646.2 L819.5 646.3 L821.0 646.4 L822.5 646.5 L824.0 646.5 L825.5 646.6 L827.0 646.6 L828.5 646.7 L830.0 646.8 L831.5 646.8 L833.0 646.9 L834.5 646.9 L836.0 647.0 L837.5 647.1 L839.0 647.1 L840.5 647.2 L842.0 647.2 L843.5 647.3 L845.0 647.3 L846.5 647.4 L848.0 647.4 L849.5 647.5 L851.0 647.5 L852.5 647.6 L854.0 647.6 L855.5 647.7 L857.0 647.7 L858.5 647.7 L860.0 647.8 L861.5 647.8 L863.0 647.9 L864.5 647.9 L866.0 648.0 L867.5 648.0 L869.0 648.0 L870.5 648.1 L872.0 648.1 L873.5 648.2 L875.0 648.2 L876.5 648.2 L878.0 648.3 L879.5 648.3 L881.0 648.3 L882.5 648.4 L884.0 648.4 L885.5 648.4 L887.0 648.5 L888.5 648.5 L890.0 648.5 L891.5 648.6 L893.0 648.6 L894.5 648.6 L896.0 648.7 L897.5 648.7 L899.0 648.7 L900.5 648.8 L902.0 648.8 L903.5 648.8 L905.0 648.9 L906.5 648.9 L908.0 648.9 L909.5 649.0 L911.0 649.0 L912.5 649.0 L914.0 649.0 L915.5 649.1 L917.0 649.1 L918.5 649.1 L920.0 649.1 L921.5 649.2 L923.0 649.2 L924.5 649.2 L926.0 649.3 L927.5 649.3 L929.0 649.3 L930.5 649.3 L932.0 649.4 L933.5 649.4 L935.0 649.4 L936.5 649.4 L938.0 649.5 L939.5 649.5 L941.0 649.5 L942.5 649.5 L944.0 649.6 L945.5 649.6 L947.0 649.6 L948.5 649.6 L950.0 649.7 L951.5 649.7 L953.0 649.7 L954.5 649.7 L956.0 649.7 L957.5 649.8 L959.0 649.8 L960.5 649.8 L962.0 649.8 L963.5 649.9 L965.0 649.9 L966.5 649.9 L968.0 649.9 L969.5 650.0 L971.0 650.0 L972.5 650.0 L974.0 650.0 L975.5 650.0 L977.0 650.1 L978.5 650.1 L980.0 650.1 L981.5 650.1 L983.0 650.2 L984.5 650.2 L986.0 650.2 L987.5 650.2 L989.0 650.2 L990.5 650.3 L992.0 650.3 L993.5 650.3 L995.0 650.3 L996.5 650.4 L998.0 650.4 L999.5 650.4 L1001.0 650.4 L1002.5 650.4 L1004.0 650.5 L1005.5 650.5 L1007.0 650.5 L1008.5 650.5 L1010.0 650.5 L1011.5 650.6 L1013.0 650.6 L1014.5 650.6 L1016.0 650.6 L1017.5 650.6 L1019.0 650.7 L1020.5 650.7 L1022.0 650.7 L1023.5 650.7 L1025.0 650.7 L1026.5 650.7 L1028.0 650.7 L1029.5 650.7 L1031.0 650.7 L1032.5 650.7 L1034.0 650.8 L1035.5 650.8 L1037.0 650.8 L1038.5 650.8 L1040.0 650.8 L1041.5 650.8 L1043.0 650.8 L1044.5 650.8 L1046.0 650.7 L1047.5 650.7 L1049.0 650.7 L1050.5 650.7 L1052.0 650.7 L1052.5 650.7" stroke="#008080"/>
</g>
<g font-family="'Liberation Serif', 'Times New Roman', Times, serif" font-weight="bold" fill="#000" stroke="#fff" stroke-width="0.50" stroke-linejoin="round">
<text transform="translate(154.3 660.5) scale(0.9170 1)" font-size="55.8" text-anchor="end">0.00</text>
<text transform="translate(154.3 508.1) scale(0.9170 1)" font-size="55.8" text-anchor="end">0.02</text>
<text transform="translate(154.3 355.7) scale(0.9170 1)" font-size="55.8" text-anchor="end">0.04</text>
<text transform="translate(154.3 203.3) scale(0.9170 1)" font-size="55.8" text-anchor="end">0.06</text>
<text transform="translate(154.3 50.9) scale(0.9170 1)" font-size="55.8" text-anchor="end">0.08</text>
<text transform="translate(238.8 785.6) scale(0.9170 1)" font-size="55.8" text-anchor="middle">20</text>
<text transform="translate(364.0 785.6) scale(0.9170 1)" font-size="55.8" text-anchor="middle">40</text>
<text transform="translate(489.2 785.6) scale(0.9170 1)" font-size="55.8" text-anchor="middle">60</text>
<text transform="translate(614.4 785.6) scale(0.9170 1)" font-size="55.8" text-anchor="middle">80</text>
<text transform="translate(739.6 785.6) scale(0.9170 1)" font-size="55.8" text-anchor="middle">100</text>
<text transform="translate(864.8 785.6) scale(0.9170 1)" font-size="55.8" text-anchor="middle">120</text>
<text transform="translate(990.0 785.6) scale(0.9170 1)" font-size="55.8" text-anchor="middle">140</text>
<text transform="translate(532.7 842.0) scale(0.9420 1)" font-size="53.8" text-anchor="middle">Time/min</text>
<text transform="translate(48.0 344.2) rotate(-90) scale(0.9820 1)" font-size="53.8" text-anchor="middle">Heat flow/W/g</text>
</g>
<path d="M813.2 70.0 H882.2" stroke="#000" stroke-width="4.6" stroke-linecap="round" fill="none"/>
<path d="M813.2 135.2 H882.2" stroke="#ff0000" stroke-width="4.6" stroke-linecap="round" fill="none"/>
<path d="M813.2 200.4 H882.2" stroke="#008080" stroke-width="4.6" stroke-linecap="round" fill="none"/>
<path d="M813.2 265.6 H882.2" stroke="#0000ff" stroke-width="4.6" stroke-linecap="round" fill="none"/>
<g font-family="'Liberation Serif', 'Times New Roman', Times, serif" font-weight="bold" fill="#000" stroke="#fff" stroke-width="0.50" stroke-linejoin="round">
<text transform="translate(890.0 81.2) scale(0.9370 1)" font-size="54.7" text-anchor="start">Blank</text>
<text transform="translate(895.0 146.4) scale(0.9200 1)" font-size="54.7" text-anchor="start">PCE-1</text>
<text transform="translate(895.0 211.6) scale(0.9200 1)" font-size="54.7" text-anchor="start">PCE-2</text>
<text transform="translate(895.0 276.6) scale(0.9200 1)" font-size="54.7" text-anchor="start">PCE-3</text>
</g>
</svg>
</body>
</html>
